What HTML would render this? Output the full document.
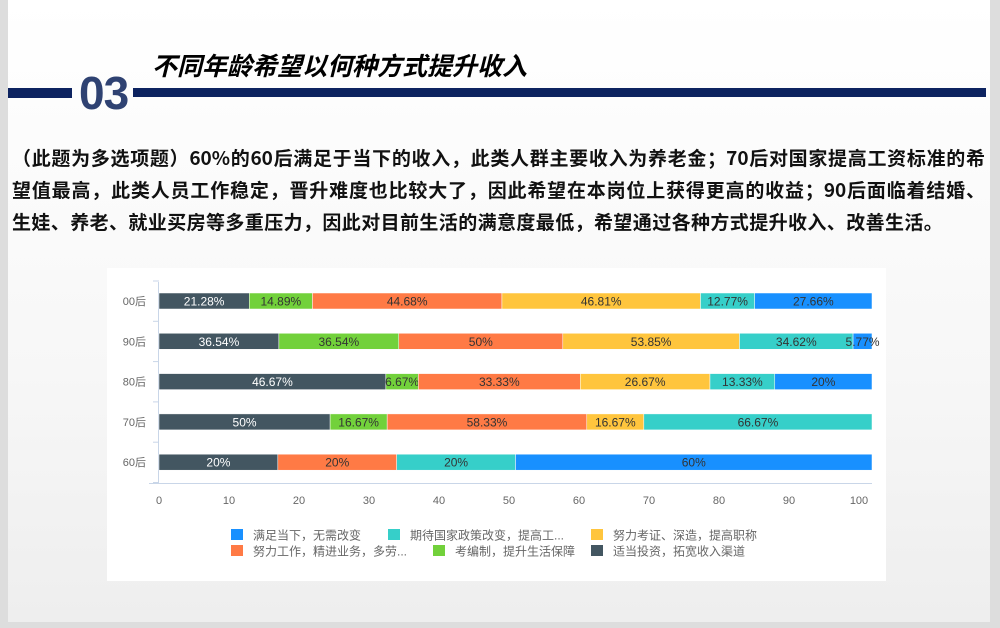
<!DOCTYPE html>
<html><head><meta charset="utf-8">
<style>
body{margin:0;width:1000px;height:628px;overflow:hidden;background:#ddd;font-family:"Liberation Sans","Noto Sans CJK SC",sans-serif;}
#slide{position:absolute;left:8px;top:0;width:982px;height:622px;background:linear-gradient(#fff 0%,#f7f7f7 60%,#eeeeee 100%);}
.bar{position:absolute;background:#0d2360;}
#num{position:absolute;left:79px;top:66px;font:bold 46px "Liberation Sans",sans-serif;color:#2f4272;letter-spacing:-1px;}
#title{position:absolute;left:152px;top:47px;font:italic bold 25px "Liberation Sans","Noto Sans CJK SC",sans-serif;color:#000;}
.line{position:absolute;left:12px;width:973px;font-weight:bold;font-size:19px;line-height:24px;color:#111;text-align:justify;text-align-last:justify;white-space:nowrap;font-family:"Noto Sans CJK SC",sans-serif;}
#panel{position:absolute;left:107px;top:268px;width:779px;height:313px;background:#fff;}
</style></head><body>
<div id="slide"></div>
<div class="bar" style="left:8px;top:88px;width:64px;height:10px"></div>
<div class="bar" style="left:133px;top:88px;width:853px;height:9px"></div>
<div id="num">03</div>
<div id="title">不同年龄希望以何种方式提升收入</div>
<div class="line" style="top:146px">（此题为多选项题）60%的60后满足于当下的收入，此类人群主要收入为养老金；70后对国家提高工资标准的希</div>
<div class="line" style="top:178px">望值最高，此类人员工作稳定，晋升难度也比较大了，因此希望在本岗位上获得更高的收益；90后面临着结婚、</div>
<div class="line" style="top:210px;width:auto;text-align-last:auto;letter-spacing:0.4px">生娃、养老、就业买房等多重压力，因此对目前生活的满意度最低，希望通过各种方式提升收入、改善生活。</div>
<div id="panel"></div>
<svg id="chart" width="1000" height="628" style="position:absolute;left:0;top:0"></svg>
<script>
const categories=["00后","90后","80后","70后","60后"];
const seriesNames=["适当投资，拓宽收入渠道","考编制，提升生活保障","努力工作，精进业务，多劳...","努力考证、深造，提高职称","期待国家政策改变，提高工...","满足当下，无需改变"];
const seriesColors=["#435661","#72d13b","#ff7a45","#ffc53d","#36cfc9","#1890ff"];
const sInvest=[21.28,36.54,46.67,50,20];
const sExam=[14.89,36.54,6.67,16.67,0];
const sWork=[44.68,50,33.33,58.33,20];
const sCert=[46.81,53.85,26.67,16.67,0];
const sPolicy=[12.77,34.62,13.33,66.67,20];
const sContent=[27.66,5.77,20,0,60];
const xTicks=[0,10,20,30,40,50,60,70,80,90,100];
const series=[sInvest,sExam,sWork,sCert,sPolicy,sContent];
const NS="http://www.w3.org/2000/svg";
const svg=document.getElementById('chart');
const x0=159,pxPer=7.0,barW=713;
const xScale=v=>x0+v*pxPer;
const yCenter=i=>301+i*40.3;
function mk(t,a){const e=document.createElementNS(NS,t);for(const k in a)e.setAttribute(k,a[k]);svg.appendChild(e);return e;}
let ax=mk('line',{x1:x0-0.5,y1:282,x2:x0-0.5,y2:483,stroke:'#c9d6e8','stroke-width':1});


let bx=mk('line',{x1:x0-10,y1:483.5,x2:x0+barW,y2:483.5,stroke:'#c9d6e8','stroke-width':1});


for(let i=0;i<=categories.length;i++){
 const yy=yCenter(i)-20;
 const tk=mk('line',{x1:x0-6,y1:yy,x2:x0,y2:yy,stroke:'#c9d6e8'});
 
 
}
xTicks.forEach(v=>{
 const t=mk('text',{x:xScale(v),y:504,'text-anchor':'middle','font-size':11,fill:'#666'});
 t.textContent=v;
 
 
});
categories.forEach((c,i)=>{
 const yc=yCenter(i);
 const t=mk('text',{x:146,y:yc+4,'text-anchor':'end','font-size':11,fill:'#666'});
 t.textContent=c;
 
 
 let tot=0;series.forEach(s=>tot+=s[i]);
 let acc=0;
 series.forEach((s,k)=>{
  const v=s[i];if(!v)return;
  const xa=x0+acc/tot*barW,w=v/tot*barW;acc+=v;
  const r=mk('rect',{x:xa,y:yc-8,width:w,height:16,fill:seriesColors[k],stroke:'#fff','stroke-width':0.5});
  
  
  const l=mk('text',{x:xa+w/2,y:yc+4.5,'text-anchor':'middle','font-size':12,fill:k==0?'#fff':'#333'});
  l.textContent=v+'%';
  
  
 });
});
const legPos=[[231,535],[388,535],[591,535],[231,551],[433,551],[591,551]];
const legOrder=[5,4,3,2,1,0];
legOrder.forEach((k,j)=>{
 const lx=legPos[j][0],ly=legPos[j][1];
 const r=mk('rect',{x:lx,y:ly-6,width:12,height:11,fill:seriesColors[k]});
 
 
 const t=mk('text',{x:lx+22,y:ly+4.5,'font-size':12,fill:'#666'});
 t.textContent=seriesNames[k];
 
 
});
</script>
</body></html>
